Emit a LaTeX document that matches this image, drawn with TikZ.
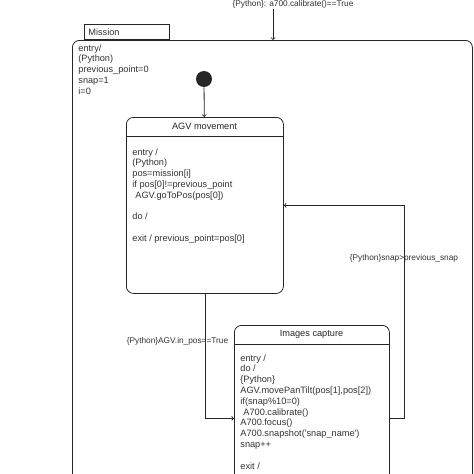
\documentclass[tikz,border=0pt]{standalone}
\usepackage{fontspec}
\setmainfont{Liberation Sans}

\begin{document}
\begin{tikzpicture}[x=1pt,y=-1pt,line width=0.8pt,color=black!85,
  font=\fontsize{9.2}{10.8}\selectfont,
  state/.style={draw,rounded corners=7pt,anchor=north west,inner sep=0pt},
  body/.style={anchor=north west,align=left,inner sep=0pt,text=black!80},
  guard/.style={text=black!80,inner sep=0pt,font=\fontsize{8.3}{10}\selectfont}]
\useasboundingbox (0,0) rectangle (474,474); %page of the reference
\fill[white] (0,0) rectangle (474,474); %white background
\node[state,minimum width=400,minimum height=480] (mission) at (72,40) {}; %the Mission state
\node[draw,anchor=south west,minimum width=85,minimum height=15,inner sep=0pt] (tab) at (84,40) {}; %its name tab
\node[anchor=west,inner sep=0pt,text=black!80] (missionname) at (88,32.5) {Mission}; %name of the state
\node[body] (missionentry) at (78,44) {entry/\\(Python)\\previous\_point=0\\snap=1\\i=0}; %entry action
\node[circle,fill,minimum size=16,inner sep=0pt] (init) at (204,79) {}; %initial state
\node[state,minimum width=157,minimum height=176] (agv) at (126,117) {}; %AGV movement state
\node (agvname) at (204.5,126.5) {AGV movement}; %its name
\draw (126,136) -- (283,136); %line under the name
\node[body] (agvbody) at (132,148) {entry /\\(Python)\\pos=mission[i]\\if pos[0]!=previous\_point\\\hspace{3pt}AGV.goToPos(pos[0])\\[10.8pt]do /\\[10.8pt]exit / previous\_point=pos[0]}; %actions
\node[state,minimum width=155,minimum height=186] (images) at (234,325) {}; %Images capture state
\node (imagesname) at (311.5,334.5) {Images capture}; %its name
\draw (234,344) -- (389,344); %line under the name
\node[body] (imagesbody) at (240,354) {entry /\\do /\\\{Python\}\\AGV.movePanTilt(pos[1],pos[2])\\if(snap\%10=0)\\\hspace{3pt}A700.calibrate()\\A700.focus()\\A700.snapshot(\textquotesingle snap\_name\textquotesingle)\\snap++\\[10.8pt]exit /}; %actions
\coordinate (calibsrc) at (273,9); %upper end of the incoming transition
\node[guard] (calibguard) at (293,4) {\{Python\}: a700.calibrate()==True}; %its guard
\draw[->] (calibsrc) -- (calibsrc |- mission.north); %transition into Mission
\draw[->] (init) -- (agv); %initial transition
\draw[->] (agv) |- (images); %AGV movement to Images capture
\node[guard] (inposguard) at (177.5,341) {\{Python\}AGV.in\_pos==True}; %its guard
\draw[->] (images.east) -- ++(15,0) |- (agv.east); %back to AGV movement
\node[guard] (snapguard) at (404,258) {\{Python\}snap>previous\_snap}; %its guard
\end{tikzpicture}
\end{document}
